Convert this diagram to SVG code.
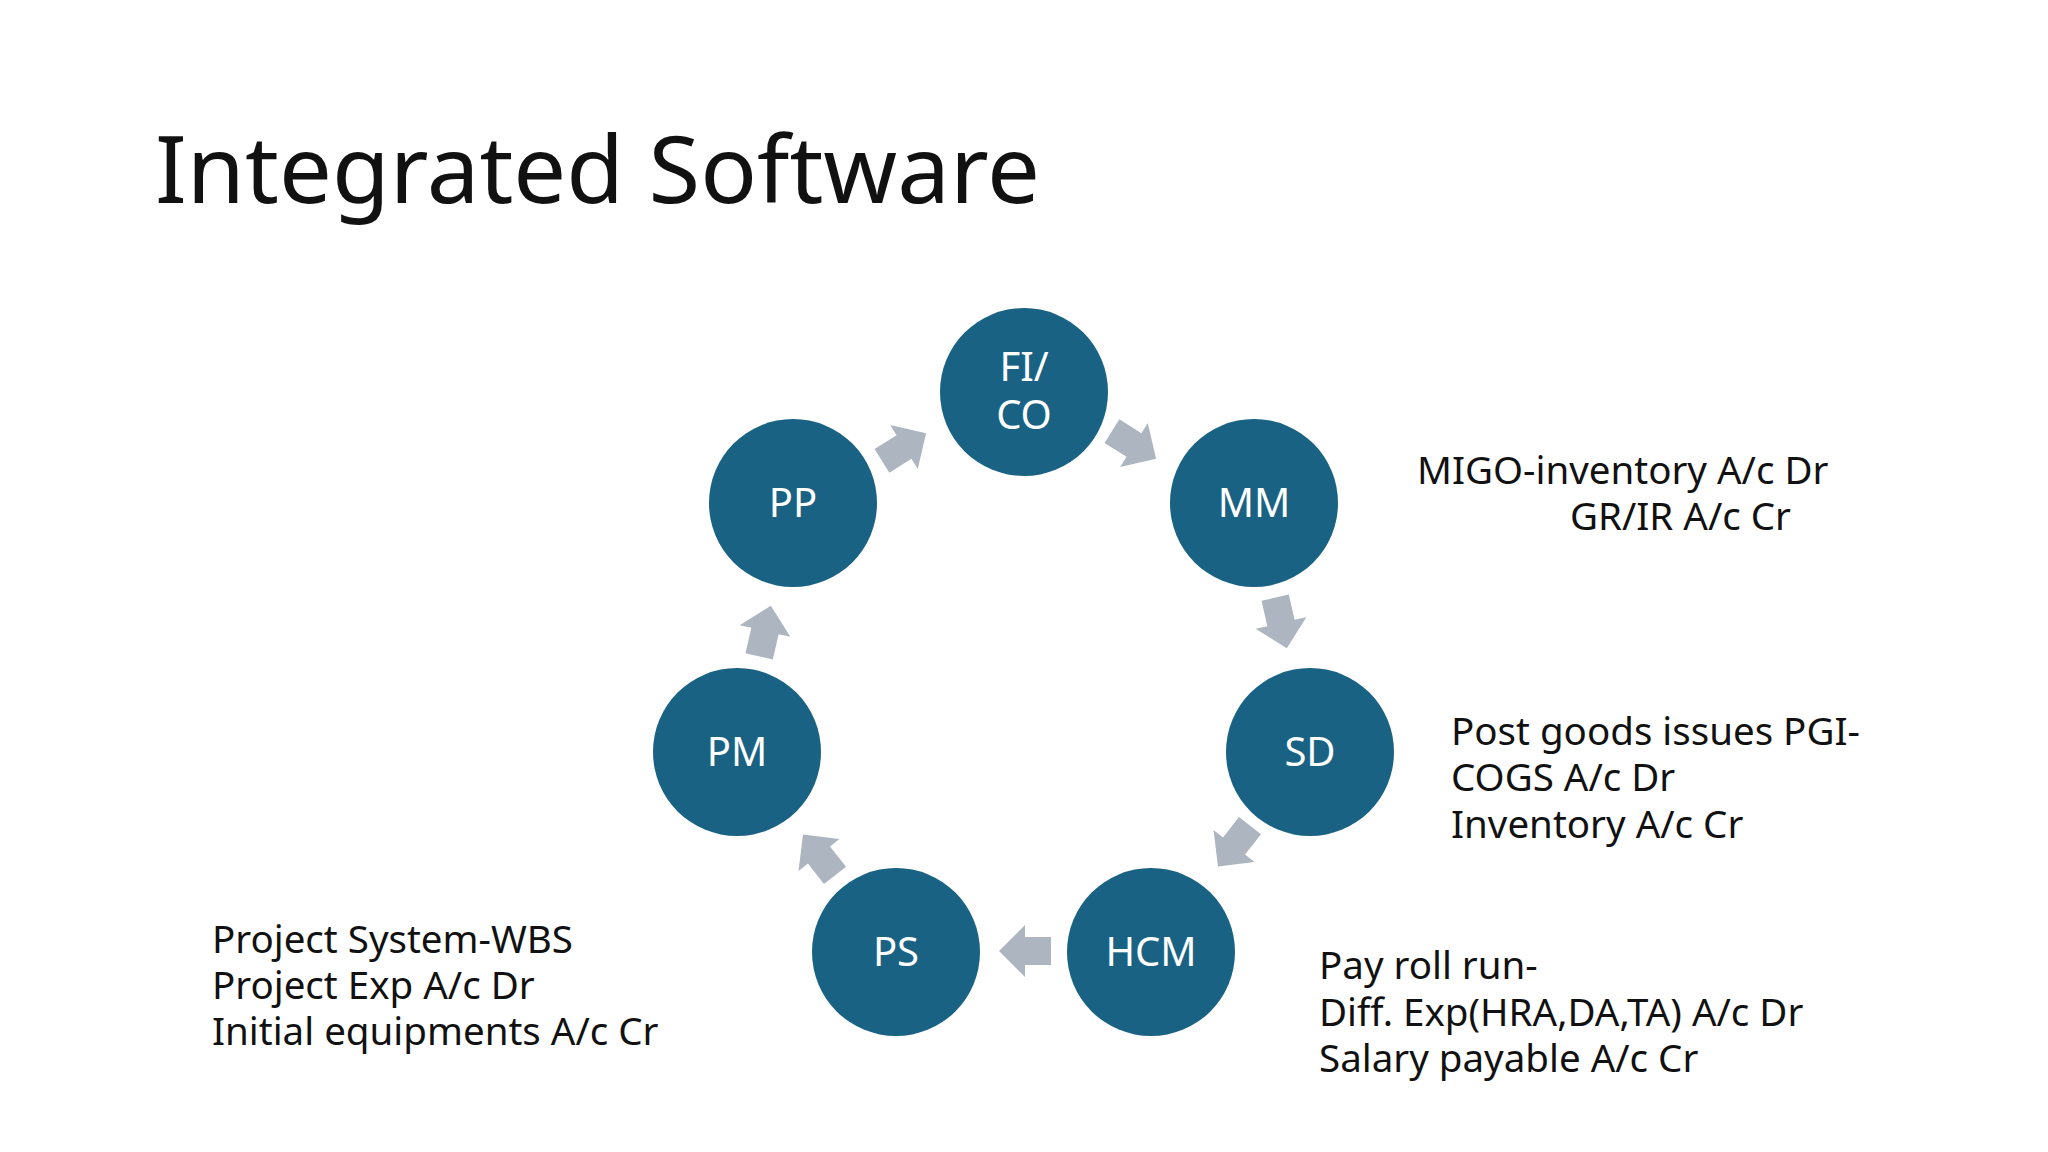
<svg xmlns="http://www.w3.org/2000/svg" width="2048" height="1152" viewBox="0 0 2048 1152">
<style>
.n{fill:#1a6283}
.nt{fill:#fff;font-family:"Noto Sans","Open Sans",sans-serif;font-size:40px;text-anchor:middle}
.t{fill:#111;font-family:"Noto Sans","Open Sans",sans-serif;font-size:38.5px}
.a{fill:#adb5c1}
</style>
<defs>
<polygon id="arr" points="-26,-14 0,-14 0,-26 26,0 0,26 0,14 -26,14"/>
</defs>
<rect width="2048" height="1152" fill="#fff"/>
<text x="155" y="203" style="font-family:'Noto Sans','Open Sans',sans-serif;font-size:94px;fill:#111">Integrated Software</text>
<g id="connectors" class="a">
<use href="#arr" transform="translate(904,447) rotate(-32)"/>
<use href="#arr" transform="translate(1134,445) rotate(32)"/>
<use href="#arr" transform="translate(1281,623) rotate(77)"/>
<use href="#arr" transform="translate(1234,846) rotate(128)"/>
<use href="#arr" transform="translate(1025,951) rotate(180)"/>
<use href="#arr" transform="translate(819,855) rotate(232)"/>
<use href="#arr" transform="translate(765,631) rotate(-77)"/>
</g>
<g id="fico"><circle class="n" cx="1024" cy="392" r="84"/><text class="nt" x="1024" y="381">FI/</text><text class="nt" x="1024" y="429">CO</text></g>
<g id="mm"><circle class="n" cx="1254" cy="503" r="84"/><text class="nt" x="1254" y="517">MM</text></g>
<g id="sd"><circle class="n" cx="1310" cy="752" r="84"/><text class="nt" x="1310" y="766">SD</text></g>
<g id="hcm"><circle class="n" cx="1151" cy="952" r="84"/><text class="nt" x="1151" y="966">HCM</text></g>
<g id="ps"><circle class="n" cx="896" cy="952" r="84"/><text class="nt" x="896" y="966">PS</text></g>
<g id="pm"><circle class="n" cx="737" cy="752" r="84"/><text class="nt" x="737" y="766">PM</text></g>
<g id="pp"><circle class="n" cx="793" cy="503" r="84"/><text class="nt" x="793" y="517">PP</text></g>
<g id="mm-note"><text class="t" x="1417" y="484">MIGO-inventory A/c Dr</text><text class="t" x="1570" y="530">GR/IR A/c Cr</text></g>
<g id="sd-note"><text class="t" x="1451" y="745">Post goods issues PGI-</text><text class="t" x="1451" y="791">COGS A/c Dr</text><text class="t" x="1451" y="838">Inventory A/c Cr</text></g>
<g id="hcm-note"><text class="t" x="1319" y="979">Pay roll run-</text><text class="t" x="1319" y="1026">Diff. Exp(HRA,DA,TA) A/c Dr</text><text class="t" x="1319" y="1072">Salary payable A/c Cr</text></g>
<g id="ps-note"><text class="t" x="212" y="953">Project System-WBS</text><text class="t" x="212" y="999">Project Exp A/c Dr</text><text class="t" x="212" y="1045">Initial equipments A/c Cr</text></g>
</svg>
